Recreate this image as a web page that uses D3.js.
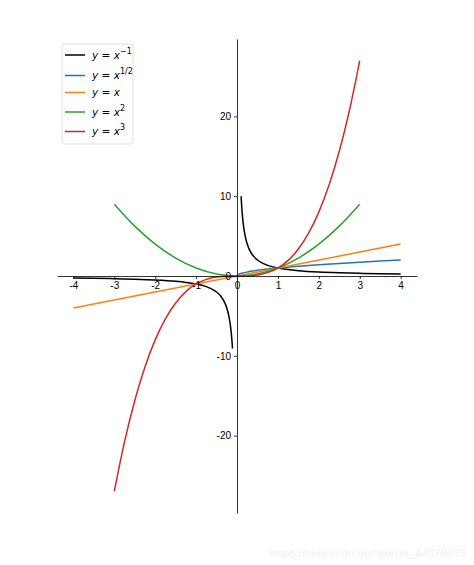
<!DOCTYPE html>
<html>
<head>
<meta charset="utf-8">
<script src="https://cdn.jsdelivr.net/npm/d3@7"></script>
<style>
  html, body { margin: 0; padding: 0; background: #fff; }
  svg { display: block; }
  .tick text { font-family: "Liberation Sans", Arial, sans-serif; font-size: 10px; fill: #000; }
</style>
</head>
<body>
<svg id="chart" width="474" height="565"></svg>
<script>
// valores (muestras de cada curva)
const invPosX = [0.1, 0.125, 0.15, 0.2, 0.25, 0.3, 0.4, 0.5, 0.6, 0.75, 1, 1.25, 1.5, 2, 2.5, 3, 3.5, 4];
const invPosY = [10, 8, 6.667, 5, 4, 3.333, 2.5, 2, 1.667, 1.333, 1, 0.8, 0.667, 0.5, 0.4, 0.333, 0.286, 0.25];
const invNegX = [-4, -3.5, -3, -2.5, -2, -1.5, -1.25, -1, -0.75, -0.6, -0.5, -0.4, -0.3, -0.25, -0.2, -0.15, -0.125, -0.11];
const invNegY = [-0.25, -0.286, -0.333, -0.4, -0.5, -0.667, -0.8, -1, -1.333, -1.667, -2, -2.5, -3.333, -4, -5, -6.667, -8, -9.09];

const sqrtX = [0, 0.02, 0.0625, 0.15, 0.25, 0.5, 0.75, 1, 1.5, 2, 2.5, 3, 3.5, 4];
const sqrtY = [0, 0.141, 0.25, 0.387, 0.5, 0.707, 0.866, 1, 1.225, 1.414, 1.581, 1.732, 1.871, 2];

const linX = [-4, 4];
const linY = [-4, 4];

const sqX = [-3, -2.5, -2, -1.5, -1, -0.5, 0, 0.5, 1, 1.5, 2, 2.5, 3];
const sqY = [9, 6.25, 4, 2.25, 1, 0.25, 0, 0.25, 1, 2.25, 4, 6.25, 9];

const cubeX = [-3, -2.75, -2.5, -2.25, -2, -1.75, -1.5, -1.25, -1, -0.75, -0.5, -0.25, 0,
               0.25, 0.5, 0.75, 1, 1.25, 1.5, 1.75, 2, 2.25, 2.5, 2.75, 3];
const cubeY = [-27, -20.797, -15.625, -11.391, -8, -5.359, -3.375, -1.953, -1, -0.422, -0.125, -0.016, 0,
               0.016, 0.125, 0.422, 1, 1.953, 3.375, 5.359, 8, 11.391, 15.625, 20.797, 27];

const xTicks = [-4, -3, -2, -1, 0, 1, 2, 3, 4];
const yTicks = [-20, -10, 0, 10, 20];

// series en el orden de dibujo (el rojo queda encima)
const series = [
  { parts: [[invNegX, invNegY], [invPosX, invPosY]], color: "#000000", base: "x", sup: "\u22121" },
  { parts: [[sqrtX, sqrtY]], color: "#1f77b4", base: "x", sup: "1/2" },
  { parts: [[linX, linY]], color: "#ff7f0e", base: "x", sup: "" },
  { parts: [[sqX, sqY]], color: "#2ca02c", base: "x", sup: "2" },
  { parts: [[cubeX, cubeY]], color: "#d62728", base: "x", sup: "3" }
];

const svg = d3.select("#chart");

const x = d3.scaleLinear().domain([-4.4, 4.4]).range([57, 417]);
const y = d3.scaleLinear().domain([-29.7, 29.7]).range([513, 39]);

// curvas
const line = d3.line()
  .x(d => x(d[0]))
  .y(d => y(d[1]))
  .curve(d3.curveMonotoneX);

const curves = svg.append("g").attr("class", "curves");
series.forEach(s => {
  s.parts.forEach(([xs, ys]) => {
    curves.append("path")
      .datum(xs.map((v, i) => [v, ys[i]]))
      .attr("fill", "none")
      .attr("stroke", s.color)
      .attr("stroke-width", 1.5)
      .attr("stroke-linejoin", "round")
      .attr("d", line);
  });
});

// ejes centrados en el origen
const fmt = d => String(d); // guion simple, sin signo menos unicode
const xAxis = d3.axisBottom(x).tickValues(xTicks).tickFormat(fmt).tickSize(3).tickPadding(3).tickSizeOuter(0);
const yAxis = d3.axisLeft(y).tickValues(yTicks).tickFormat(fmt).tickSize(3).tickPadding(3).tickSizeOuter(0);

const gx = svg.append("g").attr("transform", `translate(0,${y(0)})`).call(xAxis);
const gy = svg.append("g").attr("transform", `translate(${x(0)},0)`).call(yAxis);

[gx, gy].forEach(g => {
  g.select(".domain").attr("stroke", "#000").attr("stroke-width", 0.8);
  g.selectAll(".tick line").attr("stroke", "#000").attr("stroke-width", 0.8);
});

// leyenda
const legend = svg.append("g").attr("transform", "translate(62,44)");
legend.append("rect")
  .attr("width", 71).attr("height", 100)
  .attr("rx", 2.5)
  .attr("fill", "#fff").attr("fill-opacity", 0.8)
  .attr("stroke", "#d6d6d6").attr("stroke-width", 0.8);

const rowY = [11, 31.5, 48.5, 68, 87.5];
series.forEach((s, i) => {
  const g = legend.append("g").attr("transform", `translate(0,${rowY[i]})`);
  g.append("line")
    .attr("x1", 3).attr("x2", 23)
    .attr("stroke", s.color).attr("stroke-width", 1.5);
  const t = g.append("text")
    .attr("x", 30).attr("y", 3.5)
    .attr("font-family", "DejaVu Sans, sans-serif")
    .attr("font-size", 10.5)
    .attr("fill", "#000");
  t.append("tspan").attr("font-style", "italic").text("y");
  t.append("tspan").text(" = ");
  t.append("tspan").attr("font-style", "italic").text(s.base);
  if (s.sup) {
    t.append("tspan")
      .attr("font-size", 8)
      .attr("dy", -5)
      .text(s.sup);
  }
});

// marca de agua
svg.append("text")
  .attr("x", 466).attr("y", 557)
  .attr("text-anchor", "end")
  .attr("font-family", "Liberation Sans, Arial, sans-serif")
  .attr("font-size", 11.5)
  .attr("fill", "#f0f0f0")
  .text("https://blog.csdn.net/weixin_44378835");
</script>
</body>
</html>
